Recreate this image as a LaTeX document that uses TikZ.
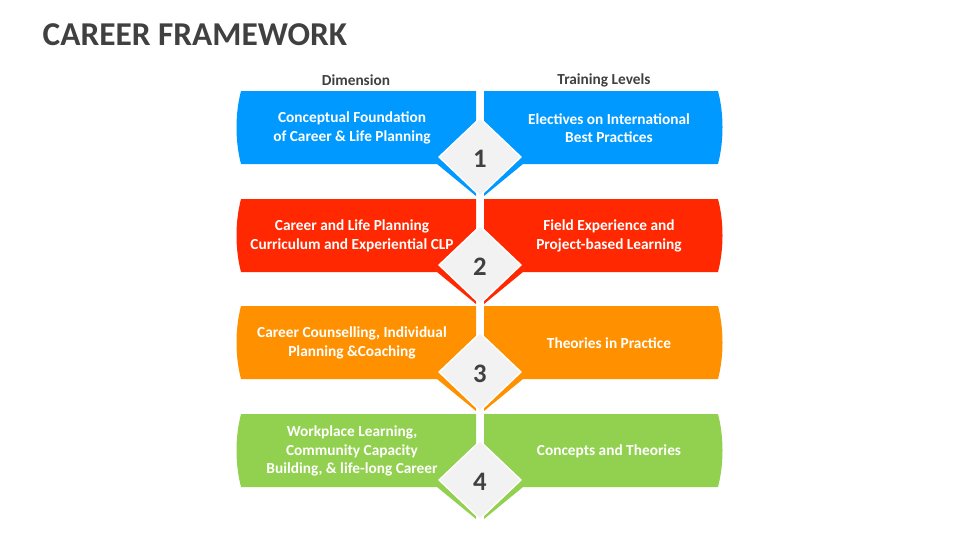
\documentclass[tikz,border=0pt]{standalone}
\usepackage{fontspec}
\setmainfont{Carlito}
\begin{document}
\begin{tikzpicture}[x=0.75pt,y=-0.75pt,
  txt/.style={text=white,font=\bfseries\fontsize{11.5}{14}\selectfont,align=center},
  num/.style={text=black!75,font=\bfseries\fontsize{20}{22}\selectfont},
  hdr/.style={text=black!75,font=\bfseries\fontsize{11.5}{14}\selectfont}]
\definecolor{cA}{RGB}{0,153,255}
\definecolor{cB}{RGB}{255,40,0}
\definecolor{cC}{RGB}{255,145,0}
\definecolor{cD}{RGB}{146,208,80}
\definecolor{dia}{RGB}{242,242,242}
\useasboundingbox (0,0) rectangle (960,540);
\node[anchor=west,text=black!75,font=\bfseries\fontsize{25}{28}\selectfont] (title) at (38,35) {CAREER FRAMEWORK};
\node[hdr] (h1) at (356,80) {Dimension};
\node[hdr] (h2) at (604,80) {Training Levels};
\foreach \t/\c/\n/\L/\R in {
 91/cA/1/{Conceptual Foundation\\of Career \& Life Planning}/{Electives on International\\Best Practices},
 199/cB/2/{Career and Life Planning\\Curriculum and Experiential CLP}/{Field Experience and\\Project-based Learning},
 306/cC/3/{Career Counselling, Individual\\Planning \&Coaching}/{Theories in Practice},
 414/cD/4/{Workplace Learning,\\Community Capacity\\Building, \& life-long Career}/{Concepts and Theories}}{
 \fill[\c] (241,\t) -- (476,\t) -- (476,\t+105) -- (437,\t+73) -- (241,\t+73)
   .. controls (235,\t+50) and (235,\t+23) .. (241,\t);
 \fill[\c] (718,\t) -- (484,\t) -- (484,\t+105) -- (523,\t+73) -- (718,\t+73)
   .. controls (724,\t+50) and (724,\t+23) .. (718,\t);
 \fill[dia,draw=white,line width=1pt] (480,\t+27) -- (521,\t+66) -- (480,\t+105) -- (439,\t+66) -- cycle;
 \node[num] (n\n) at (480,\t+68) {\n};
 \node[txt] (l\n) at (352,\t+37) {\L};
 \node[txt] (r\n) at (609,\t+37) {\R};
}
\end{tikzpicture}
\end{document}
